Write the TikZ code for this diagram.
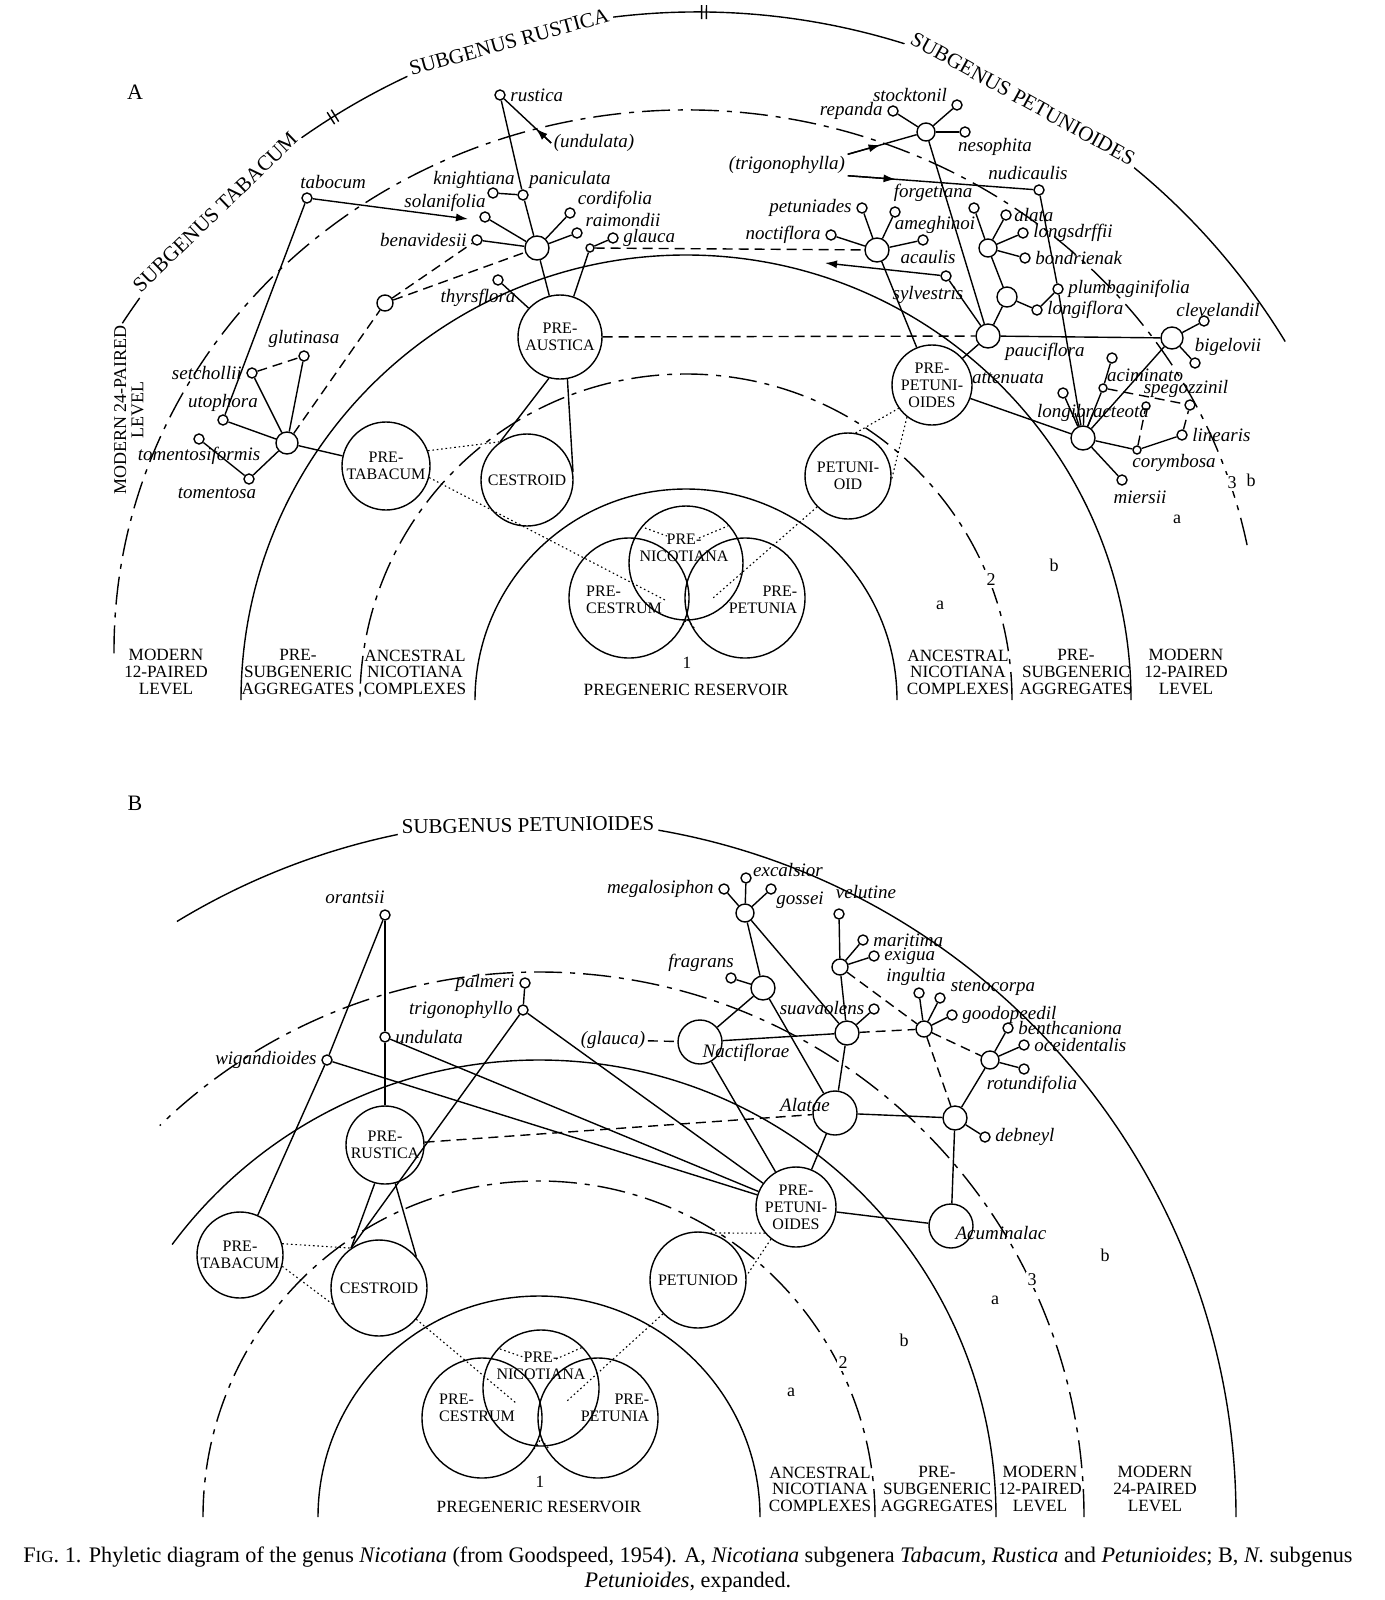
\documentclass[tikz,border=0pt]{standalone}
\usepackage{fontspec}
\setmainfont{Liberation Serif}
\usetikzlibrary{arrows.meta, positioning, calc}
\newcommand{\labfont}{\fontsize{9.5}{10}\selectfont\itshape}
\newcommand{\capfont}{\fontsize{8}{8.5}\selectfont}
\newcommand{\lvlfont}{\fontsize{8.6}{8.3}\selectfont}
\newcommand{\subfont}{\fontsize{10.5}{11}\selectfont}
\newcommand{\regfont}{\fontsize{9}{9}\selectfont}
\newcommand{\panelfont}{\fontsize{11}{11}\selectfont}
\newcommand{\figfont}{\fontsize{11.1}{12.5}\selectfont}
\tikzset{%
    >={Latex[width=4pt,length=6pt]},
    % node styles
    leaf/.style = {circle, draw, fill=white, inner sep=0pt, minimum size=5pt},
    hub/.style = {circle, draw, fill=white, inner sep=0pt, minimum size=11pt},
    big/.style = {circle, draw, inner sep=0pt, align=center, font=\capfont},
    res/.style = {circle, draw, inner sep=0pt},
    capt/.style = {inner sep=0pt, align=center, font=\capfont},
    lab/.style = {inner sep=1pt, font=\labfont},
    lvl/.style = {inner sep=0pt, align=center, font=\lvlfont},
    reg/.style = {inner sep=1pt, font=\regfont},
    subg/.style = {fill=white, inner sep=2pt, font=\subfont},
    panel/.style = {inner sep=0pt, font=\panelfont},
    % line styles
    ring/.style = {line width=0.7pt},
    ddash/.style = {dash pattern=on 14pt off 4pt on 2.5pt off 4pt},
    dsh/.style = {dash pattern=on 5pt off 3pt},
    dotl/.style = {line width=0.55pt, dash pattern=on 0.8pt off 1.4pt}
}
\begin{document}
\begin{tikzpicture}[x=0.5pt, y=-0.5pt, line width=0.7pt]
\useasboundingbox (0,0) rectangle (1385,1600);

% ================= panel A =================
\node (letA) [panel] at (135,92) {A};
\coordinate (cA) at (686,700);
\coordinate (cA4) at (686,650);
\coordinate (oA) at (698,700);
% level rings
\draw[ring] ($(cA)+(0:105.5pt)$) arc[start angle=0, end angle=180, radius=105.5pt];
\draw[ring, ddash] ($(cA)+(0:163pt)$) arc[start angle=0, end angle=180, radius=163pt];
\draw[ring] ($(cA)+(0:222.5pt)$) arc[start angle=0, end angle=180, radius=222.5pt];
\draw[ring, ddash] ($(cA4)+(11.2:286pt and 270pt)$) arc[start angle=11.2, end angle=181.1, x radius=286pt, y radius=270pt];
\draw[ring] ($(oA)+(31.4:344pt)$) arc[start angle=31.4, end angle=146.8, radius=344pt];
\foreach \a in {121.85,122.25,89.3,89.7}
    \draw ($(oA)+(\a:340.5pt)$) -- ($(oA)+(\a:347.5pt)$);
\node (sgTab) [subg, rotate=44] at (215,212) {SUBGENUS TABACUM};
\node (sgRus) [subg, rotate=15.4] at (509,42) {SUBGENUS RUSTICA};
\node (sgPet) [subg, rotate=-29] at (1023,99) {SUBGENUS PETUNIOIDES};
\node (lvA0) [lvl, font=\fontsize{9}{8.6}\selectfont, rotate=90] at (129,410) {MODERN 24-PAIRED\\LEVEL};
% level names
\node (lvA1) [lvl] at (166,672) {MODERN\\12-PAIRED\\LEVEL};
\node (lvA2) [lvl] at (298,672) {PRE-\\SUBGENERIC\\AGGREGATES};
\node (lvA3) [lvl] at (415,672) {ANCESTRAL\\NICOTIANA\\COMPLEXES};
\node (oneA) [lvl] at (687,663) {1};
\node (resA) [lvl] at (686,690) {PREGENERIC RESERVOIR};
\node (lvA4) [lvl] at (958,672) {ANCESTRAL\\NICOTIANA\\COMPLEXES};
\node (lvA5) [lvl] at (1076,672) {PRE-\\SUBGENERIC\\AGGREGATES};
\node (lvA6) [lvl] at (1186,672) {MODERN\\12-PAIRED\\LEVEL};
\node (rA1) [reg] at (940,605) {a};
\node (rA2) [reg, fill=white] at (991,580) {2};
\node (rA3) [reg] at (1054,565) {b};
\node (rA4) [reg] at (1177,519) {a};
\node (rA5) [reg, fill=white] at (1232,483) {3};
\node (rA6) [reg] at (1251,480) {b};

% reservoir
\node (nicA) [res, minimum size=57pt] at (686,563) {};
\node (cesA) [res, minimum size=60pt] at (629,598) {};
\node (petA) [res, minimum size=60pt] at (745,598) {};
\node (nicAT) [capt] at (684,548) {PRE-\\NICOTIANA};
\node (cesAT) [capt, align=left] at (624,600) {PRE-\\CESTRUM};
\node (petAT) [capt, align=right] at (763,600) {PRE-\\PETUNIA};
\coordinate (nA1) at (645,528);
\coordinate (nA2) at (667,536);
\coordinate (nA3) at (699,538);
\coordinate (nA4) at (728,526);
\coordinate (nA5) at (680,629);
\coordinate (nA6) at (687,619);
\coordinate (nA7) at (695,629);
\coordinate (nA8) at (665,600);
\coordinate (nA9) at (713,598);

% complexes and aggregates
\node (preT) [big, minimum size=44pt] at (386,466) {PRE-\\TABACUM};
\node (cest) [big, minimum size=46pt] at (527,480) {CESTROID};
\node (preA) [big, minimum size=42pt] at (560,337) {PRE-\\AUSTICA};
\node (petoid) [big, minimum size=43pt] at (848,476) {PETUNI-\\OID};
\node (prePet) [big, minimum size=40pt] at (932,385) {PRE-\\PETUNI-\\OIDES};

% subgenus Tabacum
\node (H1) [hub] at (287,443) {};
\node (H3) [hub, minimum size=8pt] at (385,303) {};
\node (setch) [leaf] at (252,373) {};
\node (glut) [leaf] at (304,356) {};
\node (utoph) [leaf] at (223,420) {};
\node (tomfor) [leaf] at (199,439) {};
\node (toment) [leaf] at (249,479) {};
\node (tabac) [leaf] at (307,198) {};
\node (setchL) [lab, left=1pt of setch] {setchollii};
\node (glutL) [lab, above=0pt of glut] {glutinasa};
\node (utophL) [lab, above=0pt of utoph] {utophora};
\node (tomforL) [lab, below=0pt of tomfor] {tomentosiformis};
\node (tomentL) [lab] at (217,493) {tomentosa};
\node (tabacL) [lab] at (333,182) {tabocum};

% subgenus Rustica
\node (H2) [hub, minimum size=12pt] at (537,248) {};
\node (rust) [leaf] at (500,95) {};
\node (knight) [leaf] at (493,193) {};
\node (panic) [leaf] at (523,195) {};
\node (solan) [leaf] at (485,217) {};
\node (benav) [leaf] at (477,240) {};
\node (cordif) [leaf] at (570,213) {};
\node (raim) [leaf] at (577,233) {};
\node (glauc) [leaf] at (613,238) {};
\node (gjoin) [leaf, minimum size=4pt] at (590,248) {};
\node (thyrs) [leaf] at (498,280) {};
\node (rustL) [lab, right=1pt of rust] {rustica};
\node (undl) [lab] at (594,143) {(undulata)};
\node (knightL) [lab] at (474,180) {knightiana};
\node (panicL) [lab] at (570,180) {paniculata};
\node (solanL) [lab] at (445,203) {solanifolia};
\node (benavL) [lab, left=1pt of benav] {benavidesii};
\node (cordifL) [lab] at (615,200) {cordifolia};
\node (raimL) [lab] at (623,220) {raimondii};
\node (glaucL) [lab, right=1pt of glauc] {glauca};
\node (thyrsL) [lab] at (478,298) {thyrsflora};

% subgenus Petunioides
\node (H4) [hub, minimum size=12pt] at (877,250) {};
\node (H5) [hub, minimum size=9pt] at (926,132) {};
\node (H6) [hub, minimum size=9pt] at (988,248) {};
\node (H7) [hub, minimum size=10pt] at (1007,297) {};
\node (H8) [hub, minimum size=12pt] at (988,336) {};
\node (H9) [hub] at (1172,338) {};
\node (H10) [hub, minimum size=12pt] at (1083,438) {};
\node (petnd) [leaf] at (862,208) {};
\node (noctf) [leaf] at (831,235) {};
\node (ameg) [leaf] at (895,212) {};
\node (acaul) [leaf] at (923,240) {};
\node (repan) [leaf] at (893,111) {};
\node (stock) [leaf] at (957,105) {};
\node (nesoph) [leaf] at (965,132) {};
\node (forget) [leaf] at (974,208) {};
\node (alata) [leaf] at (1006,215) {};
\node (longsd) [leaf] at (1023,233) {};
\node (bondr) [leaf] at (1025,258) {};
\node (longif) [leaf] at (1037,310) {};
\node (plumb) [leaf] at (1058,289) {};
\node (nudic) [leaf] at (1039,190) {};
\node (sylv) [leaf] at (946,276) {};
\node (cleve) [leaf] at (1204,321) {};
\node (bigel) [leaf] at (1195,363) {};
\node (atten) [leaf] at (1063,393) {};
\node (acjoin) [leaf, minimum size=4pt] at (1103,388) {};
\node (acum) [leaf] at (1112,358) {};
\node (speg) [leaf] at (1190,405) {};
\node (cjoin) [leaf, minimum size=4pt] at (1146,406) {};
\node (coryj) [leaf, minimum size=4pt] at (1137,450) {};
\node (linear) [leaf] at (1182,435) {};
\node (miers) [leaf] at (1122,480) {};
\node (petndL) [lab, left=1pt of petnd] {petuniades};
\node (noctfL) [lab, left=1pt of noctf] {noctiflora};
\node (amegL) [lab] at (935,225) {ameghinoi};
\node (acaulL) [lab] at (928,257) {acaulis};
\node (repanL) [lab, left=1pt of repan] {repanda};
\node (stockL) [lab] at (910,95) {stocktonil};
\node (nesophL) [lab] at (995,147) {nesophita};
\node (forgetL) [lab] at (933,193) {forgetiana};
\node (alataL) [lab, right=0pt of alata] {alata};
\node (longsdL) [lab, right=1pt of longsd] {longsdrffii};
\node (bondrL) [lab, right=1pt of bondr] {bondrienak};
\node (longifL) [lab, right=1pt of longif] {longiflora};
\node (plumbL) [lab, right=1pt of plumb] {plumbaginifolia};
\node (nudicL) [lab] at (1028,173) {nudicaulis};
\node (sylvL) [lab] at (928,295) {sylvestris};
\node (trig) [lab] at (787,165) {(trigonophylla)};
\node (paucL) [lab] at (1045,352) {pauciflora};
\node (cleveL) [lab] at (1218,310) {clevelandil};
\node (bigelL) [lab] at (1228,347) {bigelovii};
\node (attenL) [lab] at (1008,378) {attenuata};
\node (acumL) [lab] at (1145,375) {aciminato};
\node (spegL) [lab] at (1186,389) {spegozzinil};
\node (longbL) [lab] at (1093,413) {longibracteota};
\node (linearL) [lab, right=1pt of linear] {linearis};
\node (coryL) [lab] at (1174,463) {corymbosa};
\node (miersL) [lab] at (1140,497) {miersii};
\coordinate (tabEnd) at (468,219);
\coordinate (sylEnd) at (825,263);
\foreach \a [count=\i] in {108,88,68}
    \coordinate (stub\i) at ($(H10)+(\a:13pt)$);

% paths panel A
\draw (H1) -- (setch);
\draw (H1) -- (glut);
\draw (H1) -- (utoph);
\draw (H1) -- (toment);
\draw (tomfor) -- (toment);
\draw (H1) -- (preT);
\draw (tabac) -- (utoph);
\draw[->] (tabac) -- (tabEnd);
\draw[dsh] (setch) -- (glut);
\draw[dsh] (H1) -- (H3);
\draw[dsh] (H3) -- (benav);
\draw[dsh] (H3) -- (H2);
\draw (rust) -- (panic);
\draw (panic) -- (H2);
\draw (knight) -- (panic);
\draw (rust) -- (undl.west);
\draw[->] (undl.west) -- ($(undl.west)!0.3!(rust)$);
\draw (H2) -- (solan);
\draw (H2) -- (benav);
\draw (H2) -- (cordif);
\draw (H2) -- (raim);
\draw (glauc) -- (gjoin);
\draw (gjoin) -- (preA);
\draw (H2) -- (preA);
\draw (thyrs) -- (preA);
\draw[dsh] (gjoin) -- (H4);
\draw (preA.255) -- (cest.125);
\draw (preA.280) -- (cest.10);
\draw[dsh] (preA) -- (H8);
\draw (H4) -- (petnd);
\draw (H4) -- (noctf);
\draw (H4) -- (ameg);
\draw (H4) -- (acaul);
\draw (H4) -- (prePet);
\draw (H5) -- (repan);
\draw (H5) -- (stock);
\draw (H5) -- (nesoph);
\draw (H5) -- (H8);
\draw (trig.10) -- (H5);
\draw[->] (trig.10) -- ($(trig.10)!0.42!(H5)$);
\draw (trig.-10) -- (nudic);
\draw[->] (trig.-10) -- ($(trig.-10)!0.25!(nudic)$);
\draw (H6) -- (forget);
\draw (H6) -- (alata);
\draw (H6) -- (longsd);
\draw (H6) -- (bondr);
\draw (H6) -- (H7);
\draw (H7) -- (H8);
\draw (H7) -- (longif);
\draw (nudic) -- (plumb);
\draw (plumb) -- (longif);
\draw (plumb) -- (H10);
\draw (sylv) -- (H8);
\draw[->] (sylv) -- (sylEnd);
\draw (H8) -- (H9);
\draw (H8) -- (prePet);
\draw (H9) -- (cleve);
\draw (H9) -- (bigel);
\draw (H9) -- (H10);
\draw (prePet) -- (H10);
\draw (H10) -- (atten);
\draw (H10) -- (acjoin);
\draw (acjoin) -- (acum);
\draw (H10) -- (miers);
\draw (H10) -- (coryj);
\draw (coryj) -- (linear);
\draw[dsh] (linear) -- (speg);
\draw[dsh] (coryj) -- (cjoin);
\draw[dsh] (acjoin) -- (speg);
\foreach \i in {1,2,3}
    \draw (H10) -- (stub\i);
% dotted descent lines
\draw[dotl] (preT.20) -- (cest.125);
\draw[dotl] (preT.-15) -- (nA8);
\draw[dotl] (petoid.225) -- (nA9);
\draw[dotl] (petoid.80) -- (prePet.215);
\draw[dotl] (prePet.232) -- (petoid.-5);
\draw[dotl] (nA1) -- (nA2);
\draw[dotl] (nA3) -- (nA4);
\draw[dotl] (nA5) -- (nA6) -- (nA7);

% ================= panel B =================
\node (letB) [panel] at (135,803) {B};
\coordinate (cB) at (539,1517);
\draw[ring] ($(cB)+(0:110.5pt)$) arc[start angle=0, end angle=180, radius=110.5pt];
\draw[ring, ddash] ($(cB)+(0:168pt)$) arc[start angle=0, end angle=180, radius=168pt];
\draw[ring] ($(cB)+(0:228.5pt)$) arc[start angle=0, end angle=143.4, radius=228.5pt];
\draw[ring, ddash] ($(cB)+(0:272.5pt)$) arc[start angle=0, end angle=134.1, radius=272.5pt];
\draw[ring] ($(cB)+(0:348.5pt)$) arc[start angle=0, end angle=121.3, radius=348.5pt];
\node (sgPetB) [subg, rotate=0.9] at (528,825) {SUBGENUS PETUNIOIDES};
\node (oneB) [lvl] at (540,1482) {1};
\node (resB) [lvl] at (539,1507) {PREGENERIC RESERVOIR};
\node (lvB1) [lvl] at (820,1489) {ANCESTRAL\\NICOTIANA\\COMPLEXES};
\node (lvB2) [lvl] at (937,1489) {PRE-\\SUBGENERIC\\AGGREGATES};
\node (lvB3) [lvl] at (1040,1489) {MODERN\\12-PAIRED\\LEVEL};
\node (lvB4) [lvl] at (1155,1489) {MODERN\\24-PAIRED\\LEVEL};
\node (rB1) [reg] at (791,1392) {a};
\node (rB2) [reg, fill=white] at (843,1363) {2};
\node (rB3) [reg] at (904,1340) {b};
\node (rB4) [reg] at (995,1300) {a};
\node (rB5) [reg, fill=white] at (1032,1280) {3};
\node (rB6) [reg] at (1105,1255) {b};

% reservoir
\node (nicB) [res, minimum size=58pt] at (541,1388) {};
\node (cesB) [res, minimum size=60pt] at (482,1418) {};
\node (petB) [res, minimum size=60pt] at (598,1418) {};
\node (nicBT) [capt] at (541,1366) {PRE-\\NICOTIANA};
\node (cesBT) [capt, align=left] at (477,1408) {PRE-\\CESTRUM};
\node (petBT) [capt, align=right] at (615,1408) {PRE-\\PETUNIA};
\coordinate (nB1) at (500,1349);
\coordinate (nB2) at (523,1357);
\coordinate (nB3) at (556,1359);
\coordinate (nB4) at (583,1347);
\coordinate (nB5) at (534,1449);
\coordinate (nB6) at (541,1439);
\coordinate (nB7) at (549,1449);
\coordinate (nB8) at (516,1403);
\coordinate (nB9) at (567,1401);

% complexes and aggregates
\node (preRB) [big, minimum size=39pt] at (385,1145) {PRE-\\RUSTICA};
\node (preTB) [big, minimum size=43pt] at (240,1255) {PRE-\\TABACUM};
\node (cestB) [big, minimum size=48pt] at (379,1288) {CESTROID};
\node (petodB) [big, minimum size=48pt] at (698,1280) {PETUNIOD};
\node (prePetB) [big, minimum size=40pt] at (796,1207) {PRE-\\PETUNI-\\OIDES};
\node (NactB) [hub, minimum size=22pt, fill=none] at (700,1042) {};
\node (AlatB) [hub, minimum size=22pt, fill=none] at (835,1113) {};
\node (AcumB) [hub, minimum size=22pt, fill=none] at (951,1226) {};
\node (NactL) [lab] at (746,1053) {Nactiflorae};
\node (AlatL) [lab] at (805,1105) {Alatae};
\node (AcumL) [lab] at (1001,1233) {Acuminalac};

% sections of Petunioides
\node (hM) [hub, minimum size=9pt] at (745,913) {};
\node (hF) [hub, minimum size=12pt] at (763,988) {};
\node (hV) [hub, minimum size=8pt] at (840,967) {};
\node (hI) [hub, minimum size=8pt] at (924,1029) {};
\node (hS) [hub, minimum size=12pt] at (847,1033) {};
\node (hR) [hub, minimum size=9pt] at (990,1060) {};
\node (hD) [hub, minimum size=12pt] at (955,1118) {};
\node (orant) [leaf] at (385,915) {};
\node (undB) [leaf] at (385,1037) {};
\node (palm) [leaf] at (525,983) {};
\node (trigB) [leaf] at (523,1010) {};
\node (wigB) [leaf] at (327,1060) {};
\node (megal) [leaf] at (724,889) {};
\node (excal) [leaf] at (746,878) {};
\node (gossei) [leaf] at (771,889) {};
\node (velut) [leaf] at (839,914) {};
\node (marit) [leaf] at (863,940) {};
\node (exig) [leaf] at (874,956) {};
\node (fragr) [leaf] at (731,978) {};
\node (ingul) [leaf] at (919,993) {};
\node (steno) [leaf] at (940,998) {};
\node (goodo) [leaf] at (952,1015) {};
\node (suav) [leaf] at (874,1009) {};
\node (benth) [leaf] at (1008,1028) {};
\node (occid) [leaf] at (1024,1045) {};
\node (rotund) [leaf] at (1024,1069) {};
\node (debn) [leaf] at (985,1137) {};
\node (orantL) [lab] at (355,897) {orantsii};
\node (undBL) [lab, right=1pt of undB] {undulata};
\node (palmL) [lab, left=1pt of palm] {palmeri};
\node (trigBL) [lab, left=1pt of trigB] {trigonophyllo};
\node (wigBL) [lab, left=1pt of wigB] {wigandioides};
\node (glaucB) [lab] at (613,1040) {(glauca)};
\node (megalL) [lab, left=1pt of megal] {megalosiphon};
\node (excalL) [lab] at (788,870) {excalsior};
\node (gosseiL) [lab] at (800,900) {gossei};
\node (velutL) [lab] at (866,892) {velutine};
\node (maritL) [lab, right=1pt of marit] {maritima};
\node (exigL) [lab, right=1pt of exig] {exigua};
\node (fragrL) [lab] at (701,963) {fragrans};
\node (ingulL) [lab] at (916,977) {ingultia};
\node (stenoL) [lab] at (993,988) {stenocorpa};
\node (goodoL) [lab, right=1pt of goodo] {goodopeedil};
\node (suavL) [lab] at (822,1008) {suavaolens};
\node (benthL) [lab, right=1pt of benth] {benthcaniona};
\node (occidL) [lab, right=1pt of occid] {oceidentalis};
\node (rotundL) [lab] at (1032,1085) {rotundifolia};
\node (debnL) [lab, right=1pt of debn] {debneyl};

% paths panel B
\draw (orant) -- (undB);
\draw (undB) -- (preRB);
\draw (orant) -- (wigB);
\draw (wigB) -- (preTB);
\draw (palm) -- (trigB);
\draw (trigB) -- (cestB.125);
\draw (trigB) -- (prePetB);
\draw (undB) -- (prePetB);
\draw (wigB) -- (prePetB);
\draw (preRB.255) -- (cestB.125);
\draw (preRB.285) -- (cestB.40);
\draw[dsh] (preRB) -- (AlatB);
\draw[dsh] (glaucB) -- (NactB);
\draw (NactB) -- (hF);
\draw (NactB) -- (hS);
\draw (NactB) -- (prePetB);
\draw (hM) -- (megal);
\draw (hM) -- (excal);
\draw (hM) -- (gossei);
\draw (hM) -- (hF);
\draw (hM) -- (hS);
\draw (hF) -- (fragr);
\draw (hF) -- (AlatB);
\draw (hV) -- (velut);
\draw (hV) -- (marit);
\draw (hV) -- (exig);
\draw (hV) -- (hS);
\draw[dsh] (hV) -- (hI);
\draw (hS) -- (suav);
\draw (hS) -- (AlatB);
\draw[dsh] (hS) -- (hI);
\draw (hI) -- (ingul);
\draw (hI) -- (steno);
\draw (hI) -- (goodo);
\draw[dsh] (hI) -- (hR);
\draw[dsh] (hI) -- (hD);
\draw (hR) -- (benth);
\draw (hR) -- (occid);
\draw (hR) -- (rotund);
\draw (hR) -- (hD);
\draw (hD) -- (AlatB);
\draw (hD) -- (debn);
\draw (hD) -- (AcumB);
\draw (AcumB) -- (prePetB);
\draw (AlatB) -- (prePetB);
% dotted descent lines
\draw[dotl] (preTB.15) -- (cestB.125);
\draw[dotl] (preTB.-15) -- (cestB.200);
\draw[dotl] (cestB.-40) -- (nB8);
\draw[dotl] (petodB.224) -- (nB9);
\draw[dotl] (petodB.75) -- (prePetB.220);
\draw[dotl] (prePetB.232) -- (petodB.5);
\draw[dotl] (nB1) -- (nB2);
\draw[dotl] (nB3) -- (nB4);
\draw[dotl] (nB5) -- (nB6) -- (nB7);

% caption
\node (figcap) [inner sep=0pt, align=center, font=\figfont] at (688,1570)
    {F{\fontsize{8.5}{8.5}\selectfont IG}. 1. Phyletic diagram of the genus \textit{Nicotiana} (from Goodspeed, 1954). A, \textit{Nicotiana} subgenera \textit{Tabacum}, \textit{Rustica} and \textit{Petunioides}; B, \textit{N.} subgenus\\\textit{Petunioides}, expanded.};
\end{tikzpicture}
\end{document}
